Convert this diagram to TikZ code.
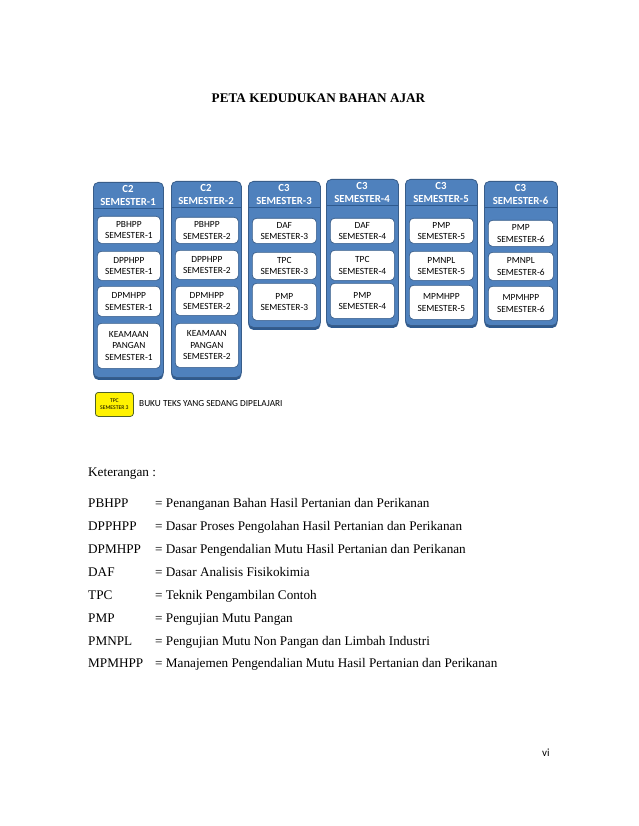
\documentclass[tikz,border=0pt]{standalone}
\usepackage{fontspec}
\setmainfont{Liberation Serif}
\newfontfamily\calfnt{Carlito}
\usetikzlibrary{shadows}
\definecolor{colblue}{HTML}{4F81BD}
\definecolor{colline}{HTML}{385D8A}
\definecolor{coldark}{HTML}{2F5A8E}
\definecolor{legborder}{HTML}{4F6228}
\tikzset{
  colbox/.style={draw=colline, line width=0.8pt, fill=colblue, rounded corners=5pt, anchor=north west, inner sep=0pt,
     drop shadow={shadow xshift=0pt, shadow yshift=-2.5pt, fill=coldark, opacity=1}},
  hdr/.style={font=\calfnt\bfseries\fontsize{10.8}{13.5}\selectfont, text=white, align=center, inner sep=0pt},
  inbox/.style={draw=colline, line width=0.7pt, fill=white, rounded corners=4pt, anchor=north west, inner sep=0pt,
     font=\calfnt\fontsize{9.4}{11.4}\selectfont, align=center},
  bodytxt/.style={font=\fontsize{13.2}{15}\selectfont, anchor=base west, inner sep=0pt},
}
\newcommand\mkcol[6]{% name, x, top, bottom, width, header
  \node[colbox, minimum width=#5 pt, minimum height={#4-#3}] (#1) at (#2,#3) {};
  \node[hdr] (#1h) at (#2+#5/2,#3+13.5) {#6};
  \draw[coldark, line width=0.5pt] (#2+0.5,#3+26.5) -- (#2+#5-0.5,#3+26.5);
}
\newcommand\mkbox[6]{% name, x, top, bottom, width, text
  \node[inbox, minimum width=#5 pt, minimum height={#4-#3}, text width=#5 pt] (#1) at (#2,#3) {#6};
}
\begin{document}
\begin{tikzpicture}[x=1pt,y=-1pt]
\useasboundingbox[fill=white] (0,0) rectangle (638,826);

\node[font=\bfseries\fontsize{13.2}{15}\selectfont, anchor=base, inner sep=0pt] (title) at (318.5,103) {PETA KEDUDUKAN BAHAN AJAR};

% columns
\mkcol{c1}{93}{182}{377}{70}{C2\\SEMESTER-1}
\mkcol{c2}{171}{181}{377}{70}{C2\\SEMESTER-2}
\mkcol{c3}{248}{181}{327}{72}{C3\\SEMESTER-3}
\mkcol{c4}{326}{179}{325}{72}{C3\\SEMESTER-4}
\mkcol{c5}{405}{179}{325}{72}{C3\\SEMESTER-5}
\mkcol{c6}{484}{181}{325}{73}{C3\\SEMESTER-6}

% boxes column 1
\mkbox{b11}{97}{216}{243}{63}{PBHPP\\SEMESTER-1}
\mkbox{b12}{97}{251}{280}{63}{DPPHPP\\SEMESTER-1}
\mkbox{b13}{97}{286}{316}{63}{DPMHPP\\SEMESTER-1}
\mkbox{b14}{97}{323}{368}{63}{KEAMAAN\\PANGAN\\SEMESTER-1}
% column 2
\mkbox{b21}{175}{217}{243}{63}{PBHPP\\SEMESTER-2}
\mkbox{b22}{175}{250}{279}{63}{DPPHPP\\SEMESTER-2}
\mkbox{b23}{175}{286}{315}{63}{DPMHPP\\SEMESTER-2}
\mkbox{b24}{175}{323}{367}{63}{KEAMAAN\\PANGAN\\SEMESTER-2}
% column 3
\mkbox{b31}{252}{218}{243}{64}{DAF\\SEMESTER-3}
\mkbox{b32}{252}{252}{279}{64}{TPC\\SEMESTER-3}
\mkbox{b33}{252}{283}{320}{64}{PMP\\SEMESTER-3}
% column 4
\mkbox{b41}{330}{218}{243}{64}{DAF\\SEMESTER-4}
\mkbox{b42}{330}{250}{280}{64}{TPC\\SEMESTER-4}
\mkbox{b43}{330}{283}{318}{64}{PMP\\SEMESTER-4}
% column 5
\mkbox{b51}{409}{218}{243}{64}{PMP\\SEMESTER-5}
\mkbox{b52}{409}{251}{280}{64}{PMNPL\\SEMESTER-5}
\mkbox{b53}{409}{285}{319}{64}{MPMHPP\\SEMESTER-5}
% column 6
\mkbox{b61}{488}{220}{246}{65}{PMP\\SEMESTER-6}
\mkbox{b62}{488}{252}{280}{65}{PMNPL\\SEMESTER-6}
\mkbox{b63}{488}{286}{320}{65}{MPMHPP\\SEMESTER-6}

% legend
\node[draw=legborder, line width=0.8pt, fill=yellow, rounded corners=3pt, anchor=north west, inner sep=0pt,
      minimum width=38pt, minimum height=24pt, align=center, font=\calfnt\fontsize{5.7}{7}\selectfont] (leg) at (95,392) {TPC\\SEMESTER 3};
\node[font=\calfnt\fontsize{9.3}{11}\selectfont, anchor=west, inner sep=0pt] (legtxt) at (139,404) {BUKU TEKS YANG SEDANG DIPELAJARI};

% keterangan
\node[bodytxt] (ket) at (88,476) {Keterangan :};
\foreach \y/\ab/\de [count=\i] in {
  507/PBHPP/Penanganan Bahan Hasil Pertanian dan Perikanan,
  530/DPPHPP/Dasar Proses Pengolahan Hasil Pertanian dan Perikanan,
  553/DPMHPP/Dasar Pengendalian Mutu Hasil Pertanian dan Perikanan,
  576/DAF/Dasar Analisis Fisikokimia,
  599/TPC/Teknik Pengambilan Contoh,
  622/PMP/Pengujian Mutu Pangan,
  645/PMNPL/Pengujian Mutu Non Pangan dan Limbah Industri,
  667/MPMHPP/Manajemen Pengendalian Mutu Hasil Pertanian dan Perikanan}{
  \node[bodytxt] (ab\i) at (88,\y) {\ab};
  \node[bodytxt] (de\i) at (155,\y) {= \de};
}

\node[font=\calfnt\fontsize{11}{13}\selectfont, anchor=base west, inner sep=0pt] (page) at (542,756) {vi};
\end{tikzpicture}
\end{document}
